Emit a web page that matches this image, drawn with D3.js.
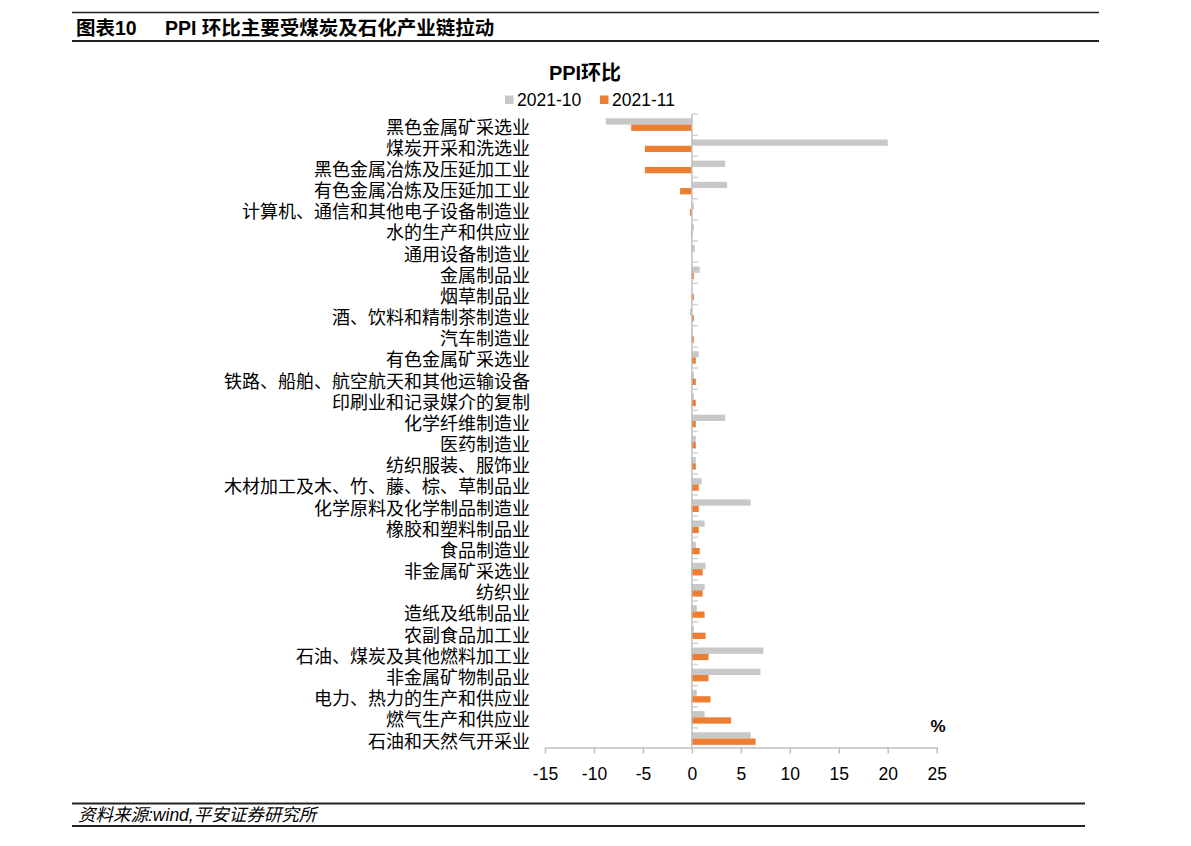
<!DOCTYPE html>
<html>
<head>
<meta charset="utf-8">
<script src="https://cdn.jsdelivr.net/npm/d3@7"></script>
<style>
  body { margin: 0; background: #fff; }
  svg { display: block; font-family: "Liberation Sans", Arial, "Noto Sans CJK SC", sans-serif; }
</style>
</head>
<body>
<div id="chart"></div>
<script>
const W = 1191, H = 846;

// categories, top to bottom
const categories = [
  "黑色金属矿采选业", "煤炭开采和洗选业", "黑色金属冶炼及压延加工业", "有色金属冶炼及压延加工业",
  "计算机、通信和其他电子设备制造业", "水的生产和供应业", "通用设备制造业", "金属制品业",
  "烟草制品业", "酒、饮料和精制茶制造业", "汽车制造业", "有色金属矿采选业",
  "铁路、船舶、航空航天和其他运输设备", "印刷业和记录媒介的复制", "化学纤维制造业", "医药制造业",
  "纺织服装、服饰业", "木材加工及木、竹、藤、棕、草制品业", "化学原料及化学制品制造业", "橡胶和塑料制品业",
  "食品制造业", "非金属矿采选业", "纺织业", "造纸及纸制品业",
  "农副食品加工业", "石油、煤炭及其他燃料加工业", "非金属矿物制品业", "电力、热力的生产和供应业",
  "燃气生产和供应业", "石油和天然气开采业"
];
const oct = [-8.8, 20.0, 3.4, 3.6, 0.2, 0.2, 0.3, 0.8, 0.0, -0.2, 0.1, 0.7, 0.2, 0.2, 3.4,
  0.4, 0.4, 1.0, 6.0, 1.3, 0.4, 1.4, 1.3, 0.5, 0.2, 7.3, 7.0, 0.5, 1.3, 6.0];
const nov = [-6.2, -4.8, -4.8, -1.2, -0.2, -0.1, 0.0, 0.2, 0.2, 0.2, 0.2, 0.4, 0.4, 0.4, 0.4,
  0.4, 0.4, 0.7, 0.7, 0.7, 0.8, 1.1, 1.1, 1.3, 1.4, 1.7, 1.7, 1.9, 4.0, 6.5];
const seriesNames = ["2021-10", "2021-11"];
const seriesColors = ["#c8c8c8", "#ed7d31"];
const xTicks = [-15, -10, -5, 0, 5, 10, 15, 20, 25];

const svg = d3.select("#chart").append("svg").attr("width", W).attr("height", H);

// header
svg.append("line").attr("x1", 72).attr("x2", 1099).attr("y1", 12.5).attr("y2", 12.5)
  .attr("stroke", "#222").attr("stroke-width", 1.5);
svg.append("line").attr("x1", 72).attr("x2", 1099).attr("y1", 41).attr("y2", 41)
  .attr("stroke", "#222").attr("stroke-width", 2);
svg.append("text").attr("x", 76).attr("y", 35).attr("font-size", 19.5).attr("font-weight", "bold")
  .text("图表10");
svg.append("text").attr("x", 165).attr("y", 35).attr("font-size", 19.5).attr("font-weight", "bold")
  .text("PPI 环比主要受煤炭及石化产业链拉动");

// footer
svg.append("line").attr("x1", 72).attr("x2", 1085).attr("y1", 803.5).attr("y2", 803.5)
  .attr("stroke", "#222").attr("stroke-width", 2);
svg.append("line").attr("x1", 72).attr("x2", 1085).attr("y1", 826).attr("y2", 826)
  .attr("stroke", "#222").attr("stroke-width", 2);
svg.append("text").attr("x", 78).attr("y", 821).attr("font-size", 17.5).attr("font-style", "italic")
  .text("资料来源:wind,平安证券研究所");

// plot
const x = d3.scaleLinear().domain([-15, 25]).range([545, 936.7]);
const y = d3.scaleBand().domain(categories).range([114, 114 + 30 * 21.17]).paddingInner(0).paddingOuter(0);
const inner = d3.scaleBand().domain(seriesNames).range([y.bandwidth() / 2 - 6.3, y.bandwidth() / 2 + 6.3]);
const axisY = 747.5;

// title & legend
svg.append("text").attr("x", 585).attr("y", 80).attr("text-anchor", "middle")
  .attr("font-size", 20).attr("font-weight", "bold").text("PPI环比");
const legend = svg.append("g");
const legX = [505, 600];
seriesNames.forEach((s, i) => {
  legend.append("rect").attr("x", legX[i]).attr("y", 95.5).attr("width", 8.5).attr("height", 8.5)
    .attr("fill", seriesColors[i]);
  legend.append("text").attr("x", legX[i] + 12).attr("y", 106).attr("font-size", 17.5).text(s);
});

// bars
const data = [oct, nov];
data.forEach((vals, si) => {
  svg.append("g").selectAll("rect").data(categories).join("rect")
    .attr("x", (d, i) => x(Math.min(0, vals[i])))
    .attr("y", d => y(d) + inner(seriesNames[si]))
    .attr("width", (d, i) => Math.abs(x(vals[i]) - x(0)))
    .attr("height", inner.bandwidth())
    .attr("fill", seriesColors[si]);
});

// category axis at zero
svg.append("line").attr("x1", x(0)).attr("x2", x(0)).attr("y1", y.range()[0]).attr("y2", axisY)
  .attr("stroke", "#bfbfbf").attr("stroke-width", 1.5);
svg.append("g").selectAll("line").data(categories).join("line")
  .attr("x1", x(0)).attr("x2", x(0) + 6)
  .attr("y1", d => y(d)).attr("y2", d => y(d))
  .attr("stroke", "#d0d0d0").attr("stroke-width", 1.5);

// category labels
svg.append("g").selectAll("text").data(categories).join("text")
  .attr("x", 530).attr("y", d => y(d) + y.bandwidth() / 2 + 9)
  .attr("text-anchor", "end").attr("font-size", 18).attr("fill", "#000").text(d => d);

// value axis
const xAxis = svg.append("g").attr("transform", `translate(0,${axisY})`)
  .call(d3.axisBottom(x).tickValues(xTicks).tickFormat(d => String(d))
    .tickSize(6).tickSizeOuter(0).tickPadding(14));
xAxis.select(".domain").attr("stroke", "#bfbfbf").attr("stroke-width", 1.5);
xAxis.selectAll(".tick line").attr("stroke", "#bfbfbf").attr("stroke-width", 1.5);
xAxis.selectAll(".tick text").attr("font-size", 17.5).attr("fill", "#000")
  .attr("font-family", "'Liberation Sans', Arial, sans-serif");

svg.append("text").attr("x", 938).attr("y", 732).attr("text-anchor", "middle")
  .attr("font-size", 17).attr("font-weight", "bold").text("%");
</script>
</body>
</html>
